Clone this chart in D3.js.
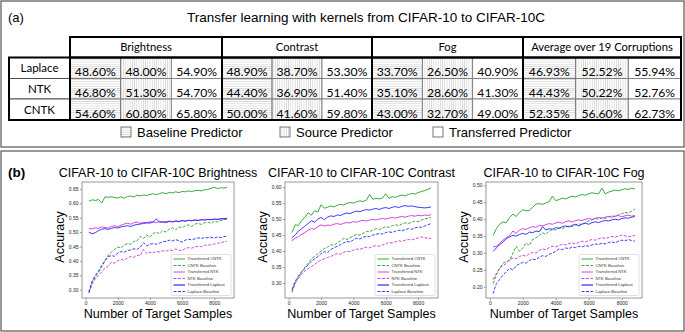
<!DOCTYPE html>
<html>
<head>
<meta charset="utf-8">
<script src="https://cdn.jsdelivr.net/npm/d3@7"></script>
<style>
  body { margin: 0; background: #fff; }
  svg { display: block; }
  text { font-family: "Liberation Sans", Arial, sans-serif; }
  .tbl text { font-family: Lato, "Open Sans", sans-serif; }
</style>
</head>
<body>
<div id="chart"></div>
<script>
// ---- table (a) ----
var groupNames = ["Brightness", "Contrast", "Fog", "Average over 19 Corruptions"];
var rowNames = ["Laplace", "NTK", "CNTK"];
var laplaceRow = [48.60, 48.00, 54.90, 48.90, 38.70, 53.30, 33.70, 26.50, 40.90, 46.93, 52.52, 55.94];
var ntkRow = [46.80, 51.30, 54.70, 44.40, 36.90, 51.40, 35.10, 28.60, 41.30, 44.43, 50.22, 52.76];
var cntkRow = [54.60, 60.80, 65.80, 50.00, 41.60, 59.80, 43.00, 32.70, 49.00, 52.35, 56.60, 62.73];
var predictorNames = ["Baseline Predictor", "Source Predictor", "Transferred Predictor"];

// ---- line charts (b) ----
var samples = [200, 400, 600, 800, 1000, 1200, 1400, 1600, 1800, 2000, 2200, 2400, 2600, 2800, 3000,
  3200, 3400, 3600, 3800, 4000, 4200, 4400, 4600, 4800, 5000, 5200, 5400, 5600, 5800, 6000,
  6200, 6400, 6600, 6800, 7000, 7200, 7400, 7600, 7800, 8000, 8200, 8400, 8600, 8800];
var seriesNames = ["Transferred CNTK", "CNTK Baseline", "Transferred NTK", "NTK Baseline", "Transferred Laplace", "Laplace Baseline"];

// Brightness
var brightTransCNTK = [0.607,0.612,0.610,0.613,0.601,0.622,0.621,0.623,0.620,0.618,0.623,0.617,0.624,0.625,0.622,0.628,0.626,0.629,0.627,0.631,0.633,0.630,0.634,0.637,0.633,0.638,0.636,0.640,0.637,0.641,0.640,0.643,0.641,0.644,0.645,0.643,0.647,0.648,0.652,0.656,0.651,0.654,0.653,0.655];
var brightCNTKBase = [0.290,0.325,0.345,0.360,0.380,0.400,0.420,0.430,0.440,0.448,0.445,0.455,0.460,0.458,0.468,0.470,0.485,0.478,0.490,0.482,0.495,0.500,0.494,0.505,0.500,0.510,0.515,0.508,0.518,0.515,0.522,0.525,0.520,0.528,0.530,0.527,0.532,0.535,0.530,0.538,0.535,0.540,0.543,0.545];
var brightTransNTK = [0.512,0.511,0.515,0.513,0.518,0.516,0.514,0.520,0.522,0.519,0.524,0.528,0.531,0.527,0.533,0.535,0.530,0.534,0.532,0.536,0.535,0.533,0.537,0.534,0.536,0.538,0.536,0.539,0.537,0.540,0.538,0.541,0.540,0.542,0.541,0.543,0.542,0.544,0.543,0.545,0.544,0.546,0.545,0.547];
var brightNTKBase = [0.288,0.320,0.338,0.350,0.362,0.375,0.382,0.395,0.392,0.400,0.405,0.402,0.410,0.415,0.412,0.420,0.418,0.440,0.425,0.430,0.428,0.433,0.431,0.435,0.434,0.438,0.436,0.441,0.438,0.435,0.443,0.446,0.444,0.449,0.451,0.449,0.454,0.456,0.455,0.459,0.461,0.463,0.466,0.468];
var brightTransLap = [0.500,0.494,0.498,0.505,0.510,0.512,0.509,0.513,0.516,0.514,0.518,0.520,0.522,0.519,0.524,0.526,0.528,0.530,0.532,0.531,0.535,0.546,0.534,0.536,0.533,0.537,0.535,0.538,0.536,0.540,0.538,0.541,0.539,0.542,0.540,0.543,0.542,0.544,0.543,0.545,0.544,0.546,0.547,0.548];
var brightLapBase = [0.292,0.330,0.350,0.365,0.385,0.400,0.415,0.418,0.416,0.428,0.432,0.430,0.436,0.438,0.442,0.440,0.448,0.463,0.452,0.458,0.460,0.458,0.462,0.466,0.468,0.472,0.469,0.474,0.470,0.465,0.472,0.475,0.473,0.477,0.480,0.478,0.481,0.480,0.482,0.479,0.483,0.481,0.484,0.486];

// Contrast
var contrTransCNTK = [0.458,0.482,0.480,0.496,0.505,0.520,0.512,0.526,0.522,0.545,0.534,0.537,0.541,0.538,0.543,0.546,0.544,0.549,0.552,0.550,0.554,0.557,0.555,0.559,0.577,0.562,0.565,0.563,0.566,0.579,0.565,0.570,0.568,0.572,0.575,0.573,0.577,0.580,0.578,0.583,0.586,0.589,0.593,0.597];
var contrCNTKBase = [0.270,0.300,0.318,0.335,0.350,0.362,0.375,0.383,0.392,0.400,0.408,0.412,0.420,0.418,0.425,0.432,0.440,0.436,0.442,0.447,0.452,0.450,0.456,0.462,0.460,0.466,0.470,0.467,0.472,0.476,0.474,0.479,0.482,0.480,0.485,0.488,0.486,0.490,0.494,0.492,0.497,0.500,0.503,0.505];
var contrTransNTK = [0.432,0.440,0.445,0.452,0.458,0.465,0.470,0.468,0.476,0.482,0.478,0.481,0.480,0.484,0.486,0.483,0.487,0.489,0.488,0.492,0.490,0.494,0.496,0.494,0.497,0.499,0.497,0.500,0.502,0.500,0.503,0.505,0.503,0.506,0.508,0.506,0.509,0.511,0.509,0.512,0.510,0.513,0.511,0.514];
var contrNTKBase = [0.275,0.300,0.315,0.328,0.338,0.345,0.352,0.358,0.365,0.372,0.375,0.380,0.383,0.388,0.392,0.390,0.396,0.400,0.398,0.403,0.406,0.405,0.409,0.412,0.410,0.414,0.417,0.415,0.419,0.422,0.427,0.425,0.429,0.432,0.430,0.434,0.436,0.435,0.438,0.441,0.444,0.442,0.440,0.439];
var contrTransLap = [0.442,0.450,0.462,0.470,0.478,0.486,0.495,0.490,0.500,0.505,0.498,0.506,0.510,0.508,0.513,0.511,0.516,0.519,0.517,0.522,0.525,0.523,0.527,0.530,0.528,0.531,0.533,0.530,0.534,0.536,0.533,0.537,0.539,0.536,0.540,0.542,0.540,0.541,0.539,0.537,0.536,0.535,0.536,0.538];
var contrLapBase = [0.280,0.305,0.322,0.335,0.345,0.357,0.368,0.375,0.383,0.392,0.398,0.395,0.405,0.410,0.415,0.420,0.425,0.430,0.428,0.435,0.440,0.438,0.443,0.446,0.445,0.450,0.452,0.455,0.453,0.458,0.460,0.458,0.462,0.465,0.463,0.467,0.470,0.468,0.472,0.475,0.474,0.478,0.482,0.486];

// Fog
var fogTransCNTK = [0.352,0.372,0.385,0.392,0.390,0.405,0.415,0.408,0.420,0.428,0.425,0.426,0.435,0.445,0.446,0.444,0.448,0.452,0.468,0.455,0.458,0.462,0.460,0.465,0.468,0.466,0.470,0.473,0.471,0.475,0.478,0.476,0.475,0.492,0.475,0.480,0.483,0.486,0.484,0.487,0.490,0.488,0.492,0.489];
var fogCNTKBase = [0.210,0.235,0.255,0.270,0.275,0.278,0.300,0.320,0.305,0.315,0.330,0.322,0.340,0.345,0.352,0.360,0.355,0.365,0.370,0.368,0.374,0.372,0.377,0.380,0.378,0.383,0.386,0.384,0.390,0.395,0.398,0.402,0.400,0.404,0.402,0.407,0.410,0.408,0.413,0.416,0.420,0.418,0.424,0.430];
var fogTransNTK = [0.318,0.320,0.328,0.338,0.345,0.352,0.365,0.358,0.368,0.372,0.370,0.375,0.378,0.376,0.382,0.380,0.384,0.387,0.385,0.389,0.391,0.388,0.393,0.395,0.392,0.396,0.398,0.396,0.400,0.402,0.399,0.403,0.405,0.403,0.406,0.408,0.406,0.409,0.411,0.407,0.410,0.412,0.409,0.411];
var fogNTKBase = [0.222,0.240,0.255,0.262,0.270,0.280,0.285,0.283,0.290,0.293,0.291,0.298,0.302,0.300,0.308,0.312,0.310,0.316,0.320,0.318,0.322,0.326,0.324,0.328,0.330,0.327,0.332,0.335,0.333,0.337,0.340,0.338,0.342,0.345,0.343,0.346,0.349,0.347,0.350,0.353,0.351,0.348,0.350,0.352];
var fogTransLap = [0.305,0.315,0.325,0.332,0.342,0.348,0.352,0.350,0.355,0.358,0.355,0.362,0.360,0.365,0.363,0.378,0.368,0.372,0.370,0.375,0.373,0.378,0.380,0.377,0.382,0.385,0.380,0.386,0.388,0.385,0.390,0.392,0.390,0.394,0.396,0.395,0.398,0.400,0.398,0.402,0.404,0.403,0.406,0.408];
var fogLapBase = [0.180,0.210,0.222,0.235,0.245,0.255,0.250,0.262,0.268,0.272,0.270,0.278,0.282,0.280,0.288,0.292,0.290,0.296,0.300,0.305,0.312,0.310,0.315,0.313,0.318,0.316,0.320,0.318,0.322,0.320,0.324,0.327,0.325,0.329,0.327,0.331,0.333,0.330,0.335,0.338,0.336,0.340,0.337,0.335];

var brightTicks = [0.30, 0.35, 0.40, 0.45, 0.50, 0.55, 0.60, 0.65];
var contrTicks = [0.30, 0.35, 0.40, 0.45, 0.50, 0.55, 0.60];
var fogTicks = [0.20, 0.25, 0.30, 0.35, 0.40, 0.45, 0.50];
var xTicks = [0, 2000, 4000, 6000, 8000];

var W = 685, H = 332;
var svg = d3.select("#chart").append("svg").attr("width", W).attr("height", H);

// hatch patterns for the table cells
var defs = svg.append("defs");
defs.append("pattern").attr("id", "hatchH").attr("width", 4).attr("height", 2.2)
  .attr("patternUnits", "userSpaceOnUse")
  .append("rect").attr("width", 4).attr("height", 0.8).attr("fill", "#d6d6d6");
defs.append("pattern").attr("id", "hatchV").attr("width", 2.2).attr("height", 4)
  .attr("patternUnits", "userSpaceOnUse")
  .append("rect").attr("width", 0.8).attr("height", 4).attr("fill", "#d6d6d6");
var cellFills = ["url(#hatchH)", "url(#hatchV)", "#fff"];

// panel frames
svg.append("rect").attr("x", 1).attr("y", 1).attr("width", W - 2).attr("height", 146)
  .attr("fill", "none").attr("stroke", "#555").attr("stroke-width", 1.2);
svg.append("rect").attr("x", 1).attr("y", 151).attr("width", W - 2).attr("height", 180)
  .attr("fill", "none").attr("stroke", "#555").attr("stroke-width", 1.2);

// ---------- (a) ----------
svg.append("text").attr("x", 8).attr("y", 22).attr("font-size", 13).text("(a)");
svg.append("text").attr("x", 366).attr("y", 22).attr("text-anchor", "middle")
  .attr("font-size", 13.5).text("Transfer learning with kernels from CIFAR-10 to CIFAR-10C");

var groupEdges = [70, 222, 372, 523, 681];
var rowEdges = [37, 57.5, 78.5, 99, 120];
var labelLeft = 9;
var rows = [laplaceRow, ntkRow, cntkRow];
var pct = d3.format(".2f");
var table = svg.append("g").attr("class", "tbl");

function cellX(i) {
  var g = Math.floor(i / 3), k = i % 3;
  var w = (groupEdges[g + 1] - groupEdges[g]) / 3;
  return [groupEdges[g] + k * w, w];
}

rows.forEach(function(row, r) {
  row.forEach(function(v, i) {
    var cx = cellX(i);
    table.append("rect").attr("x", cx[0]).attr("y", rowEdges[r + 1])
      .attr("width", cx[1]).attr("height", rowEdges[r + 2] - rowEdges[r + 1])
      .attr("fill", cellFills[i % 3]).attr("stroke", "#777").attr("stroke-width", 0.8);
    table.append("text").attr("x", cx[0] + cx[1] / 2).attr("y", rowEdges[r + 2] - 2.5)
      .attr("text-anchor", "middle").attr("font-size", 12.2)
      .text(pct(v) + "%");
  });
  table.append("rect").attr("x", labelLeft).attr("y", rowEdges[r + 1])
    .attr("width", groupEdges[0] - labelLeft).attr("height", rowEdges[r + 2] - rowEdges[r + 1])
    .attr("fill", "#fff").attr("stroke", "#333").attr("stroke-width", 0.8);
  table.append("text").attr("x", (labelLeft + groupEdges[0]) / 2)
    .attr("y", (rowEdges[r + 1] + rowEdges[r + 2]) / 2 + 4)
    .attr("text-anchor", "middle").attr("font-size", 11.5).text(rowNames[r]);
});

groupNames.forEach(function(name, g) {
  table.append("text").attr("x", (groupEdges[g] + groupEdges[g + 1]) / 2)
    .attr("y", (rowEdges[0] + rowEdges[1]) / 2 + 4)
    .attr("text-anchor", "middle").attr("font-size", 11.2).text(name);
  // thick borders for header and group
  table.append("rect").attr("x", groupEdges[g]).attr("y", rowEdges[0])
    .attr("width", groupEdges[g + 1] - groupEdges[g]).attr("height", rowEdges[1] - rowEdges[0])
    .attr("fill", "none").attr("stroke", "#000").attr("stroke-width", 2);
  table.append("rect").attr("x", groupEdges[g]).attr("y", rowEdges[1])
    .attr("width", groupEdges[g + 1] - groupEdges[g]).attr("height", rowEdges[4] - rowEdges[1])
    .attr("fill", "none").attr("stroke", "#000").attr("stroke-width", 2);
});
table.append("rect").attr("x", labelLeft).attr("y", rowEdges[1])
  .attr("width", groupEdges[0] - labelLeft).attr("height", rowEdges[4] - rowEdges[1])
  .attr("fill", "none").attr("stroke", "#000").attr("stroke-width", 2);

// predictor legend
var predX = [121, 280, 433];
predictorNames.forEach(function(name, i) {
  svg.append("rect").attr("x", predX[i]).attr("y", 127).attr("width", 10).attr("height", 10)
    .attr("fill", cellFills[i]).attr("stroke", "#555").attr("stroke-width", 0.8);
  svg.append("text").attr("x", predX[i] + 16).attr("y", 136.5)
    .attr("font-size", 13).text(name);
});

// ---------- (b) ----------
svg.append("text").attr("x", 8).attr("y", 177).attr("font-size", 13.5)
  .attr("font-weight", "bold").text("(b)");

var seriesColors = ["#22a022", "#22a022", "#d030d0", "#d030d0", "#2424ff", "#2424ff"];
var seriesDash = [null, "3,1.5", null, "3,1.5", null, "3,1.5"];

function drawChart(cfg) {
  var x = d3.scaleLinear().domain([-230, 9230]).range([cfg.left, cfg.right]);
  var y = d3.scaleLinear().domain(cfg.yDomain).range([cfg.bottom, cfg.top]);
  var g = svg.append("g");
  var cx = (cfg.left + cfg.right) / 2;

  g.append("text").attr("x", cx).attr("y", 177).attr("text-anchor", "middle")
    .attr("font-size", 12.5).text(cfg.title);

  var xAxis = g.append("g").attr("transform", "translate(0," + cfg.bottom + ")")
    .call(d3.axisBottom(x).tickValues(xTicks).tickSize(2).tickPadding(1.5).tickFormat(d3.format("d")));
  var yAxis = g.append("g").attr("transform", "translate(" + cfg.left + ",0)")
    .call(d3.axisLeft(y).tickValues(cfg.ticks).tickSize(2).tickPadding(1.5).tickFormat(d3.format(".2f")));
  [xAxis, yAxis].forEach(function(a) {
    a.select(".domain").remove();
    a.selectAll("line").attr("stroke", "#555").attr("stroke-width", 0.6);
    a.selectAll("text").attr("font-size", 5).attr("fill", "#222")
      .attr("font-family", "'Liberation Sans', Arial, sans-serif");
  });

  var line = d3.line().x(function(d, i) { return x(samples[i]); }).y(function(d) { return y(d); });
  cfg.series.forEach(function(s, k) {
    g.append("path").datum(s).attr("d", line).attr("fill", "none")
      .attr("stroke", seriesColors[k]).attr("stroke-width", 0.9)
      .attr("stroke-dasharray", seriesDash[k]);
  });

  g.append("rect").attr("x", cfg.left).attr("y", cfg.top)
    .attr("width", cfg.right - cfg.left).attr("height", cfg.bottom - cfg.top)
    .attr("fill", "none").attr("stroke", "#999").attr("stroke-width", 1);

  // legend
  var lw = 60, lh = 41;
  var lx = cfg.right - 3 - lw, ly = cfg.bottom - 2.5 - lh;
  var lg = g.append("g").attr("transform", "translate(" + lx + "," + ly + ")");
  lg.append("rect").attr("width", lw).attr("height", lh).attr("rx", 1.5)
    .attr("fill", "#fff").attr("fill-opacity", 0.85).attr("stroke", "#ccc").attr("stroke-width", 0.6);
  seriesNames.forEach(function(name, k) {
    var yy = 4.5 + k * 6.5;
    lg.append("line").attr("x1", 2.5).attr("x2", 14).attr("y1", yy).attr("y2", yy)
      .attr("stroke", k === 4 ? "#8080ff" : seriesColors[k])
      .attr("stroke-width", k === 4 ? 2 : 0.9)
      .attr("stroke-dasharray", seriesDash[k]);
    lg.append("text").attr("x", 16.5).attr("y", yy + 1.4).attr("font-size", 4.2)
      .attr("fill", "#333").text(name);
  });

  g.append("text").attr("x", cx).attr("y", 318).attr("text-anchor", "middle")
    .attr("font-size", 12.5).text("Number of Target Samples");
  g.append("text").attr("transform", "translate(" + (cfg.left - 18) + "," + ((cfg.top + cfg.bottom) / 2 - 3) + ") rotate(-90)")
    .attr("text-anchor", "middle").attr("font-size", 12.5).text("Accuracy");
}

drawChart({ left: 82, right: 234, top: 182, bottom: 298, yDomain: [0.271, 0.674], ticks: brightTicks,
  title: "CIFAR-10 to CIFAR-10C Brightness",
  series: [brightTransCNTK, brightCNTKBase, brightTransNTK, brightNTKBase, brightTransLap, brightLapBase] });
drawChart({ left: 285, right: 438, top: 182, bottom: 298, yDomain: [0.253, 0.616], ticks: contrTicks,
  title: "CIFAR-10 to CIFAR-10C Contrast",
  series: [contrTransCNTK, contrCNTKBase, contrTransNTK, contrNTKBase, contrTransLap, contrLapBase] });
drawChart({ left: 486, right: 642, top: 182, bottom: 298, yDomain: [0.167, 0.510], ticks: fogTicks,
  title: "CIFAR-10 to CIFAR-10C Fog",
  series: [fogTransCNTK, fogCNTKBase, fogTransNTK, fogNTKBase, fogTransLap, fogLapBase] });
</script>
</body>
</html>
